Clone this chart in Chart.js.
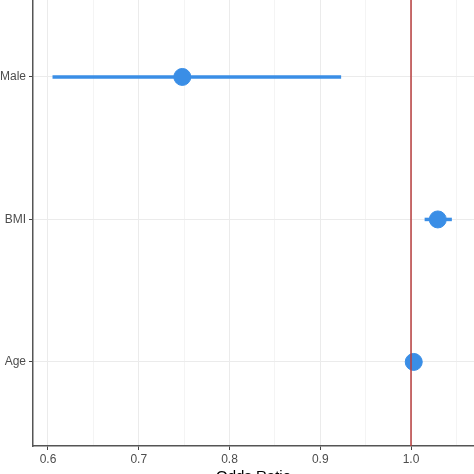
<!DOCTYPE html>
<html>
<head>
<meta charset="utf-8">
<script src="https://cdn.jsdelivr.net/npm/chart.js@4"></script>
<style>
  html, body { margin: 0; padding: 0; background: #fff; overflow: hidden; }
  #wrap { width: 474px; height: 474px; }
</style>
</head>
<body>
<div id="wrap"><canvas id="grafico"></canvas></div>
<script>
// dados (de baixo para cima)
const categorias = ['Age', 'BMI', 'Male'];
const oddsRatio = [1.003, 1.0295, 0.748];
const limInferior = [0.997, 1.015, 0.605];
const limSuperior = [1.008, 1.045, 0.923];
const ticksX = [0.6, 0.7, 0.8, 0.9, 1.0];
const linhaRef = 1.0;

const azul = '#3a8ee6';
const vermelho = '#b73d3d';

window.onload = function() {
    desenharGrafico();
};

function ehMaior(v) {
    return ticksX.some(t => Math.abs(t - v) < 1e-6);
}

function desenharGrafico() {
    const ctx = document.getElementById('grafico').getContext('2d');

    // barras de erro, uma por categoria
    const barras = categorias.map((c, i) => ({
        data: [{ x: limInferior[i], y: i + 1 }, { x: limSuperior[i], y: i + 1 }],
        showLine: true,
        borderColor: azul,
        borderWidth: 3.5,
        pointRadius: 0,
        order: 2
    }));

    const pontos = {
        data: oddsRatio.map((v, i) => ({ x: v, y: i + 1 })),
        backgroundColor: azul,
        borderColor: azul,
        pointRadius: 8.5,
        pointHoverRadius: 8.5,
        order: 1
    };

    const referencia = {
        data: [{ x: linhaRef, y: 0 }, { x: linhaRef, y: 5 }],
        showLine: true,
        borderColor: vermelho,
        borderWidth: 1.5,
        pointRadius: 0,
        order: 0
    };

    new Chart(ctx, {
        type: 'scatter',
        data: { datasets: [...barras, pontos, referencia] },
        options: {
            responsive: true,
            maintainAspectRatio: false,
            animation: false,
            layout: { padding: 0, autoPadding: false },
            plugins: { legend: { display: false }, tooltip: { enabled: false } },
            scales: {
                x: {
                    type: 'linear',
                    min: 0.5835,
                    max: 1.0694,
                    afterBuildTicks: (axis) => {
                        const t = [];
                        for (let v = 0.6; v <= 1.0651; v += 0.05) t.push({ value: Math.round(v * 100) / 100 });
                        axis.ticks = t;
                    },
                    afterFit: (axis) => {
                        axis.height = 28;
                        axis.paddingLeft = 0;
                        axis.paddingRight = 0;
                    },
                    ticks: {
                        autoSkip: false,
                        maxRotation: 0,
                        padding: 2,
                        color: '#4d4d4d',
                        font: { family: 'Liberation Sans', size: 12 },
                        callback: (v) => ehMaior(v) ? v.toFixed(1) : ''
                    },
                    grid: {
                        color: (c) => ehMaior(c.tick.value) ? '#ebebeb' : '#f4f4f4',
                        lineWidth: 1,
                        tickLength: 4,
                        tickColor: (c) => ehMaior(c.tick.value) ? '#444' : 'rgba(0,0,0,0)'
                    },
                    border: { color: '#555', width: 1.5 },
                    title: {
                        display: true,
                        text: 'Odds Ratio',
                        color: '#000',
                        font: { family: 'Liberation Sans', size: 15 },
                        padding: { top: 0, bottom: -12 }
                    }
                },
                y: {
                    type: 'linear',
                    min: 0.41,
                    max: 3.54,
                    afterBuildTicks: (axis) => {
                        axis.ticks = categorias.map((c, i) => ({ value: i + 1 }));
                    },
                    afterFit: (axis) => {
                        axis.width = 33;
                        axis.paddingTop = 0;
                        axis.paddingBottom = 0;
                    },
                    ticks: {
                        autoSkip: false,
                        padding: 3,
                        color: '#4d4d4d',
                        font: { family: 'Liberation Sans', size: 12 },
                        callback: (v) => categorias[v - 1]
                    },
                    grid: {
                        color: '#ebebeb',
                        lineWidth: 1,
                        tickLength: 4,
                        tickColor: '#444'
                    },
                    border: { color: '#555', width: 1.5 }
                }
            }
        }
    });
}
</script>
</body>
</html>
